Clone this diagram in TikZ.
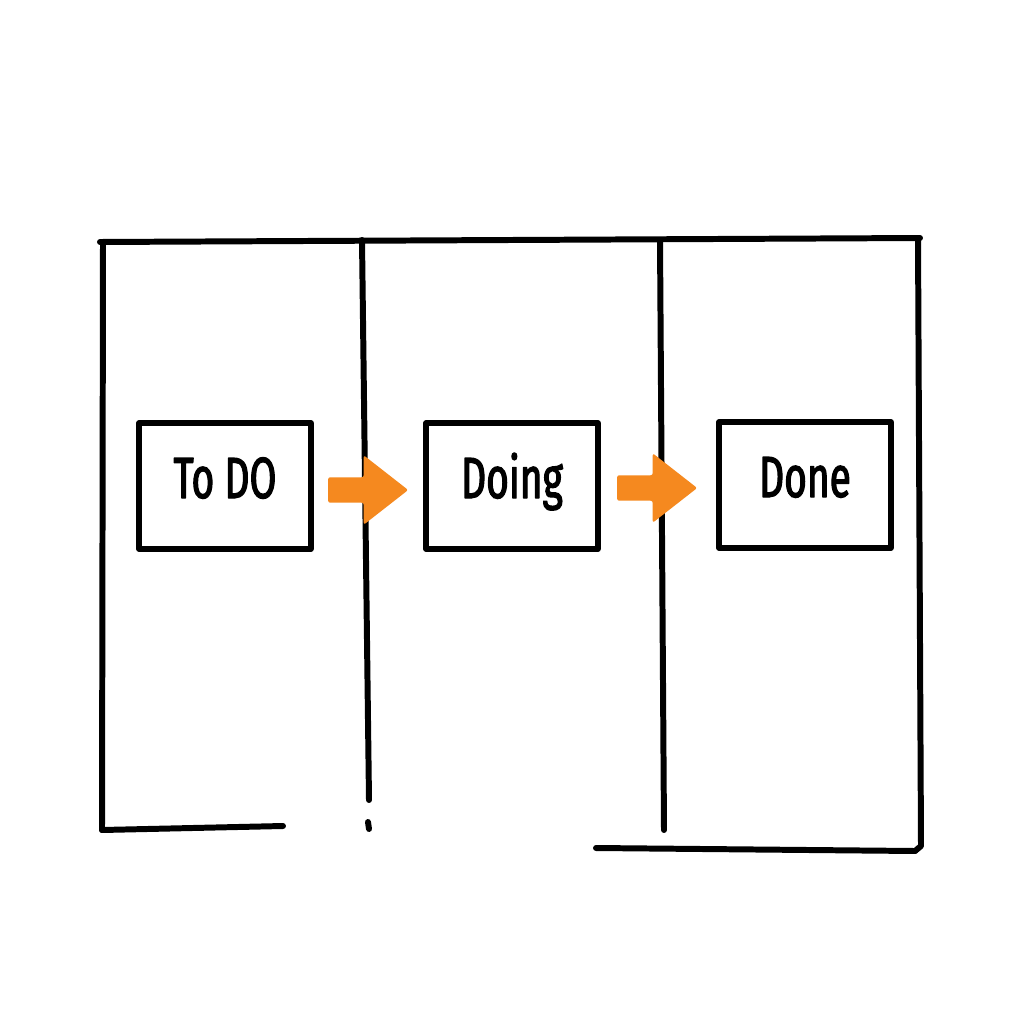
\documentclass[tikz,border=0pt]{standalone}
\usepackage{fontspec}
\newfontfamily\handfont[FakeStretch=0.67,FakeBold=2]{Fira Sans}
\usetikzlibrary{shapes.arrows}
\definecolor{markerorange}{HTML}{F5891F}
\tikzset{
    pen/.style={line width=1.7pt, line cap=round, line join=round},
    card/.style={pen, draw, minimum width=1.71cm, minimum height=1.26cm, inner sep=0pt, text height=0.42cm, text depth=0.18cm, font=\handfont\fontsize{16.5}{16.5}\selectfont},
    flow/.style={single arrow, fill=markerorange, draw=none, inner sep=0.12cm, minimum height=0.8cm, single arrow head extend=0.22cm, single arrow tip angle=76, shape border rotate=0, rounded corners=0.6pt}
}
\begin{document}
\begin{tikzpicture}[x=0.01cm, y=-0.01cm]
        \useasboundingbox[fill=white] (0, 0) rectangle (1024, 1024);
        \draw[pen](100, 242) to (920, 238);
        \draw[pen](103, 242) to (102, 830);
            \draw[pen](102, 830) to (283, 826);
        \draw[pen](362, 240) to (369, 800);
            \draw[pen](368, 822) to (369, 829);
        \draw[pen](660, 240) to (664, 830);
        \draw[pen](918, 238) to (921, 846) to (915, 851);
            \draw[pen](596, 848) to (915, 851);

        \node[card] (todo) at (225, 486){To DO};
        \node[card] (doing) at (512, 486){Doing};
        \node[card] (done) at (805, 485){Done};

        \node[flow] (push) at (360, 490){};
        \node[flow] (finish) at (649, 488){};
    \end{tikzpicture}
\end{document}
